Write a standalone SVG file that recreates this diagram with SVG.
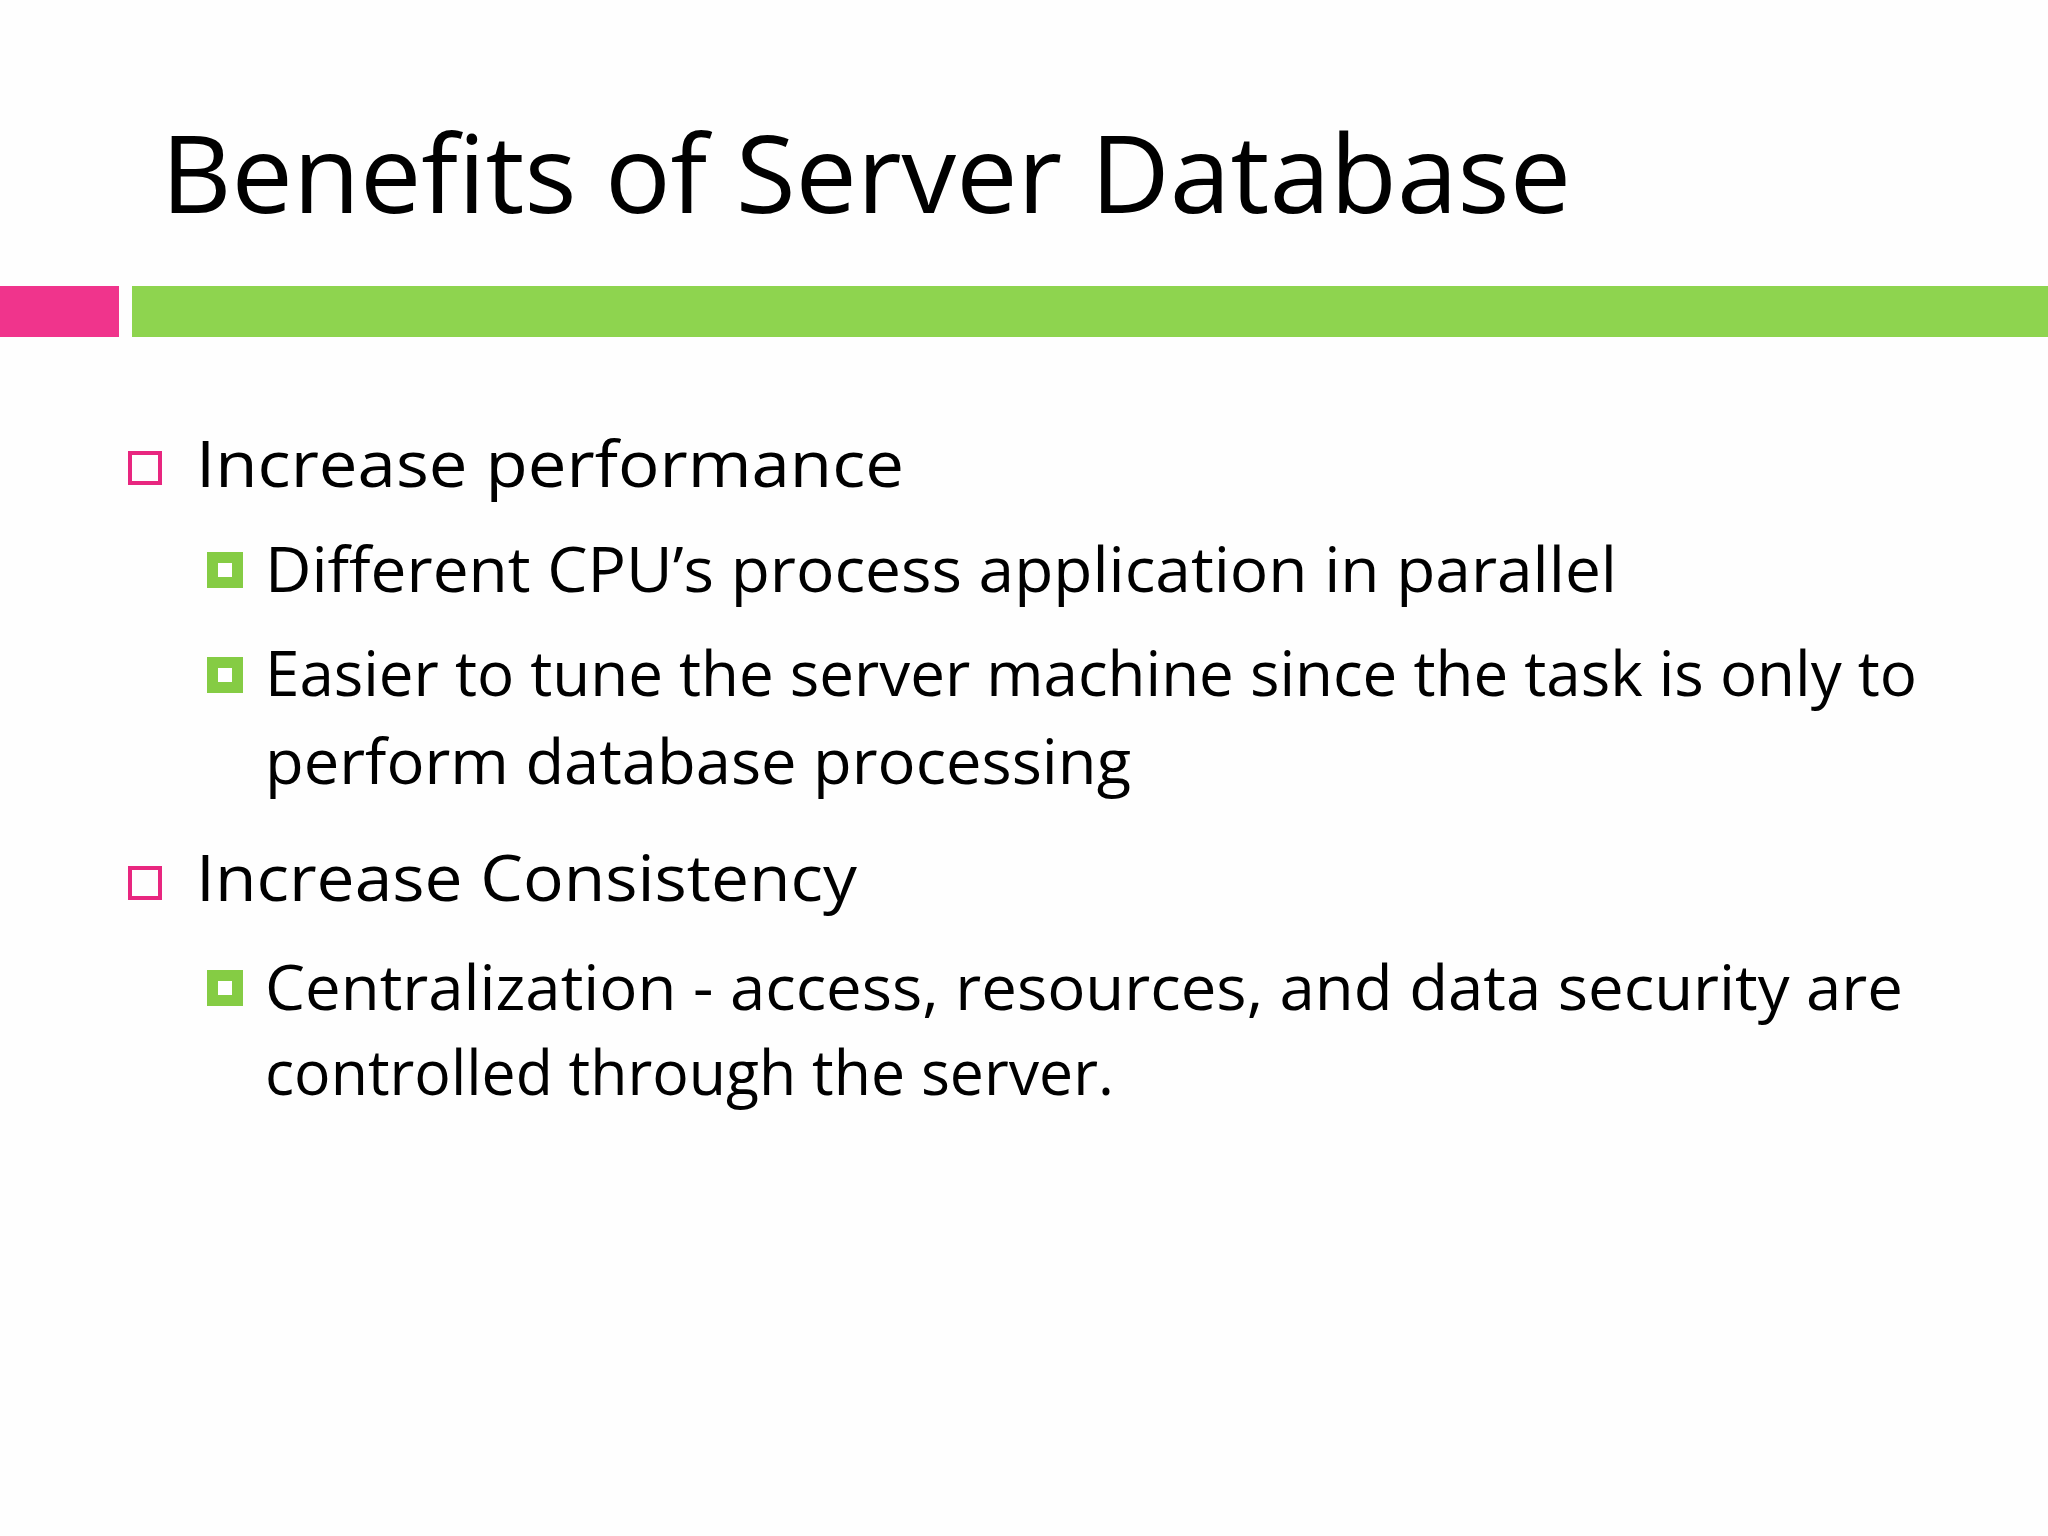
<svg xmlns="http://www.w3.org/2000/svg" width="2048" height="1536" viewBox="0 0 2048 1536">
<style>
text{font-family:"Open Sans","Liberation Sans",sans-serif;fill:#000}
.t{font-size:108px}
.l1{font-size:64px}
.l2{font-size:62px}
.pb{fill:none;stroke:#e8267f;stroke-width:4}
.gb{fill:#85cc44}
.gi{fill:#fff}
</style>
<rect width="2048" height="1536" fill="#fefefe"/>
<g id="title"><text class="t" x="161" y="213" textLength="1410" lengthAdjust="spacingAndGlyphs">Benefits of Server Database</text></g>
<g id="bars">
<rect x="0" y="286" width="119" height="51" fill="#f0348c"/>
<rect x="132" y="286" width="1916" height="51" fill="#8ed44f"/>
</g>
<g id="b1"><rect class="pb" x="130" y="453" width="30" height="30"/>
<text class="l1" x="196" y="487" textLength="708" lengthAdjust="spacingAndGlyphs">Increase performance</text></g>
<g id="b1a"><rect class="gb" x="207" y="552" width="36" height="36"/><rect class="gi" x="218" y="563" width="14" height="14"/>
<text class="l2" x="265" y="592" textLength="1352" lengthAdjust="spacingAndGlyphs">Different CPU’s process application in parallel</text></g>
<g id="b1b"><rect class="gb" x="207" y="657" width="36" height="36"/><rect class="gi" x="218" y="668" width="14" height="14"/>
<text class="l2" x="265" y="696" textLength="1652" lengthAdjust="spacingAndGlyphs">Easier to tune the server machine since the task is only to</text>
<text class="l2" x="265" y="784" textLength="866" lengthAdjust="spacingAndGlyphs">perform database processing</text></g>
<g id="b2"><rect class="pb" x="130" y="868" width="30" height="30"/>
<text class="l1" x="196" y="901" textLength="661" lengthAdjust="spacingAndGlyphs">Increase Consistency</text></g>
<g id="b2a"><rect class="gb" x="207" y="970" width="36" height="36"/><rect class="gi" x="218" y="981" width="14" height="14"/>
<text class="l2" x="265" y="1010" textLength="1638" lengthAdjust="spacingAndGlyphs">Centralization - access, resources, and data security are</text>
<text class="l2" x="265" y="1095" textLength="849" lengthAdjust="spacingAndGlyphs">controlled through the server.</text></g>
</svg>
